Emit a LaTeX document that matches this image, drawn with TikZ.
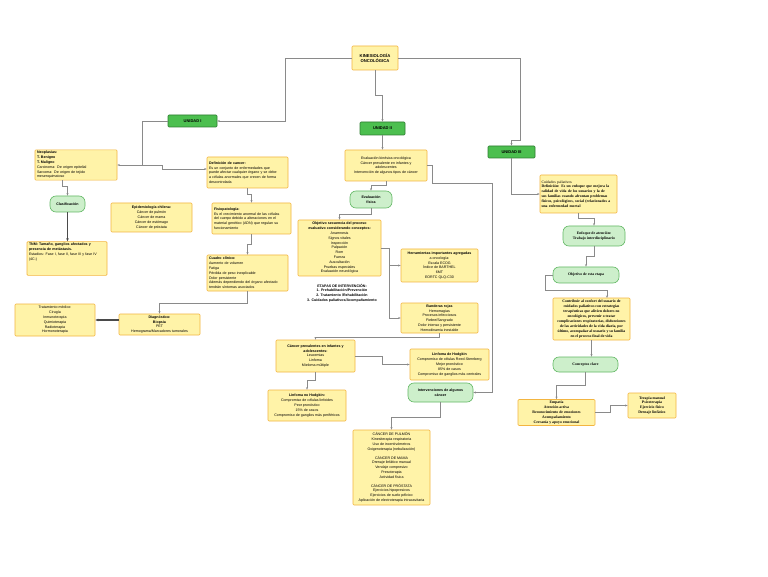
\documentclass[tikz,border=0pt]{standalone}
\usepackage{fontspec}
\setmainfont{Liberation Sans}
\newfontfamily\serifx{Liberation Serif}
\usetikzlibrary{arrows.meta,calc}
\definecolor{boxfill}{HTML}{FFF3A8}
\definecolor{boxline}{HTML}{F3B541}
\definecolor{pillfill}{HTML}{CDEFCB}
\definecolor{pillline}{HTML}{62B864}
\definecolor{unifill}{HTML}{4CBF4F}
\definecolor{uniline}{HTML}{2E7D32}
\definecolor{linec}{HTML}{8A8A8A}
\definecolor{darkline}{HTML}{4A4A4A}
\tikzset{
 box/.style={draw=boxline, fill=boxfill, line width=0.6pt, rounded corners=1pt, inner sep=1.5pt, font=\fontsize{3.6}{4.8}\selectfont},
 sbox/.style={draw=boxline, fill=boxfill, line width=0.6pt, rounded corners=1pt, inner sep=1.5pt, font=\serifx\bfseries\fontsize{3.8}{4.9}\selectfont},
 pill/.style={draw=pillline, fill=pillfill, line width=0.6pt, rounded corners=6pt, inner sep=1pt, align=center, font=\fontsize{3.6}{4.6}\selectfont\bfseries},
 spill/.style={pill, font=\serifx\bfseries\fontsize{3.8}{4.6}\selectfont},
 uni/.style={draw=uniline, fill=unifill, line width=0.6pt, rounded corners=1pt, font=\fontsize{4}{5}\selectfont\bfseries},
 wh/.style 2 args={minimum width=#1pt, minimum height=#2pt},
 tw/.style={text width=#1pt},
 conn/.style={draw=linec, line width=0.5pt, -{Stealth[length=2.5pt,width=2pt]}},
 heavy/.style={draw=darkline, line width=1.2pt, -{Stealth[length=3pt,width=2.5pt]}},
}
\begin{document}
\begin{tikzpicture}[x=1pt,y=-1pt]
\fill[white] (0,0) rectangle (768,577);
\useasboundingbox (0,0) rectangle (768,577);

% --- title and units
\node[box, wh={46}{24}, align=center, font=\bfseries\fontsize{4.2}{5.4}\selectfont] (title) at (375,58) {KINESIOLOGÍA\\ONCOLÓGICA};
\node[uni, wh={49}{12}] (u1) at (192.5,121) {UNIDAD I};
\node[uni, wh={45}{13}] (u2) at (382.5,128.5) {UNIDAD II};
\node[uni, wh={47}{12}] (u3) at (511.5,152) {UNIDAD III};

% --- unidad I
\node[box, wh={82}{30}, tw={78}, align=left] (neo) at (76,165) {\textbf{Neoplasias:}\\\textbf{T. Benigno}\\\textbf{T. Maligno}\\Carcinoma: De origen epitelial\\Sarcoma: De origen de tejido\\mesenquimatoso};
\node[pill, wh={35}{16}] (clas) at (67.5,204) {Clasificación};
\node[box, wh={80}{31}, tw={76}, align=left] (tnm) at (67,258.5) {\textbf{TNM: Tamaño, ganglios afectados y}\\\textbf{presencia de metástasis.}\\Estadios: Fase I, fase II, fase III y fase IV\\(4C-)\\[9pt]~};
\node[box, wh={81}{29}, align=center] (epi) at (151.5,217.5) {\textbf{Epidemiología chilena:}\\Cáncer de pulmón\\Cáncer de mama\\Cáncer de estómago\\Cáncer de próstata};
\node[box, wh={81}{31}, tw={77}, align=left] (def) at (247.5,172.5) {\textbf{Definición de cancer:}\\Es un conjunto de enfermedades que\\puede afectar cualquier órgano y se debe\\a células anormales que crecen de forma\\descontrolada};
\node[box, wh={79}{31}, tw={75}, align=left] (fisio) at (251.5,218.5) {\textbf{Fisiopatología:}\\Es el crecimiento anormal de las células\\del cuerpo debido a alteraciones en el\\material genético (ADN) que regulan su\\funcionamiento};
\node[box, wh={81}{36}, tw={77}, align=left] (cuadro) at (247.5,273) {\textbf{Cuadro clínico:}\\Aumento de volumen\\Fatiga\\Pérdida de peso inexplicable\\Dolor persistente\\Además dependiendo del órgano afectado\\tendrán síntomas asociados};
\node[box, wh={81}{21}, align=center] (diag) at (159.5,324.5) {\textbf{Diagnóstico:}\\\textbf{Biopsia}\\PET\\Hemograma/Marcadores tumorales};
\node[box, wh={80}{32}, align=center] (trat) at (55,320) {Tratamiento médico:\\Cirugía\\Inmunoterapia\\Quimioterapia\\Radioterapia\\Hormonoterapia};

% --- unidad II
\node[box, wh={82}{31}, align=center] (evk) at (386,165.5) {Evaluación kinésica oncológica\\Cáncer prevalente en infantes y\\adolescentes\\Intervención de algunos tipos de cáncer};
\node[pill, wh={42}{17}] (evf) at (371,199.5) {Evaluación\\física};
\node[box, wh={83}{56}, align=center] (obj) at (339.5,248) {\textbf{Objetivo secuencia del proceso}\\\textbf{evaluativo considerando conceptos:}\\Anamnesis\\Signos vitales\\Inspección\\Palpación\\Rom\\Fuerza\\Auscultación\\Pruebas especiales\\Evaluación neurológica};
\node[align=center, inner sep=0pt, font=\bfseries\fontsize{3.6}{4.8}\selectfont] (etapas) at (342,293) {ETAPAS DE INTERVENCIÓN:\\1. Prehabilitación/Prevención\\2. Tratamiento /Rehabilitación\\3. Cuidados paliativos/Acompañamiento};
\node[box, wh={77}{33}, align=center] (herr) at (439.5,265.5) {\textbf{Herramientas importantes agregadas}\\a oncología:\\Escala ECOG\\Índice de BARTHEL\\6MT\\EORTC QLQ-C30};
\node[box, wh={77}{30}, align=center] (band) at (439.5,318) {\textbf{Banderas rojas}\\Hemorragias\\Procesos infecciosos\\Fiebre/Sangrado\\Dolor intenso y persistente\\Hemodinamia inestable};
\node[box, wh={79}{32}, align=center] (cprev) at (315.5,356) {\textbf{Cáncer prevalentes en infantes y}\\\textbf{adolescentes:}\\Leucemias\\Linfoma\\Mieloma múltiple};
\node[box, wh={79}{31}, align=center] (lh) at (449.5,364.5) {\textbf{Linfoma de Hodgkin}\\Compromiso de células Reed-Sternberg\\Mejor pronóstico\\85\% de casos\\Compromiso de ganglios más centrales};
\node[box, wh={78}{31}, align=center] (lnh) at (307,405.5) {\textbf{Linfoma no Hodgkin:}\\Compromiso de células linfoides\\Peor pronóstico\\15\% de casos\\Compromiso de ganglios más periféricos};
\node[pill, wh={65}{19}] (interv) at (440.5,392.5) {Intervenciones de algunos\\cáncer};
\node[box, wh={77}{75}, align=center] (cancer) at (391.5,467.5) {CÁNCER DE PULMÓN\\Kinesiterapia respiratoria\\Uso de incentivómetros\\Oxigenoterapia (nebulización)\\[4pt]CÁNCER DE MAMA\\Drenaje linfático manual\\Vendaje compresivo\\Presoterapia\\Actividad física\\[4pt]CÁNCER DE PRÓSTATA\\Ejercicios hipopresivos\\Ejercicios de suelo pélvico\\Aplicación de electroterapia intracavitaria};

% --- unidad III
\node[sbox, wh={77}{38}, tw={74}, align=left] (cuid) at (578.5,194) {\mdseries Cuidados paliativos\\\bfseries Definición: Es un enfoque que mejora la\\calidad de vida de los usuarios y la de\\sus familias cuando afrontan problemas\\físicos, psicológicos, social (relacionados a\\una enfermedad mortal};
\node[spill, wh={62}{20}] (enf) at (594,236) {Enfoque de atención:\\Trabajo interdisciplinario};
\node[spill, wh={66}{16}] (objet) at (586,275) {Objetivo de esta etapa};
\node[sbox, wh={77}{42}, align=center] (contrib) at (591.5,319) {Contribuir al confort del usuario de\\cuidados paliativos con estrategias\\terapéuticas que alivien dolores no\\oncológicos, prevenir o tratar\\complicaciones respiratorias, disfunciones\\de las actividades de la vida diaria, por\\último, acompañar al usuario y su familia\\en el proceso final de vida};
\node[spill, wh={65}{15}] (concep) at (585.5,364.5) {Conceptos clave};
\node[sbox, wh={77}{25}, align=center] (empat) at (556.5,412.5) {Empatía\\Atención activa\\Reconocimiento de emociones\\Acompañamiento\\Cercanía y apoyo emocional};
\node[sbox, wh={48}{25}, align=center] (terap) at (652,405.5) {Terapia manual\\Psicoterapia\\Ejercicio físico\\Drenaje linfático};

% --- connectors
\draw[conn] (title.west) -- (285,58) |- (u1.east);
\draw[conn] (title.south) -- ++(0,25) -| (u2.north);
\draw[conn] (title.east) -- (520,58) -- (520,140) -| (u3.north);
\coordinate (j1) at (142,165);
\draw[conn] (u1.west) -| (j1) -- (neo.east);
\draw[conn] (j1) -- (162,165) -- (162,169) -- (def.west |- 0,169);
\draw[conn] ([xshift=-14pt]neo.south) -- ++(0,6) -| (clas.north);
\draw[heavy] (clas.south) -- (clas.south |- tnm.north);
\draw[conn] (def.south) -- ++(0,6) -| (fisio.north);
\draw[conn] (fisio.south) -- ++(0,10) -| (cuadro.north);
\draw[conn] (cuadro.south) -- ++(0,12) -| (diag.north);
\draw[heavy] (diag.west |- trat.east) -- (trat.east);
\draw[conn] (u2.south) -- (u2.south |- evk.north);
\draw[conn] (evk.east) -- (432,165.5) -- (432,183) -- (492,183) |- (interv.east);
\draw[conn] (evk.south) -- ++(0,4) -| (evf.north);
\draw[conn] (evf.south) -- ++(0,6) -| (obj.north);
\coordinate (j2) at (389,248);
\draw[conn] (obj.east) -- (j2) |- (herr.west);
\draw[conn] (j2) |- (band.west);
\draw[conn] (band.south) -- ++(0,4) -| (cprev.north);
\draw[conn] (cprev.east) -- (382,356) |- (lh.west);
\draw[conn] (cprev.south) -- ++(0,8) -| (lnh.north);
\draw[conn] (interv.south) -- ++(0,15) -| (cancer.north);
\draw[conn] (u3.south) |- (cuid.west);
\draw[conn] (cuid.south) -- ++(0,5) -| (enf.north);
\draw[conn] (enf.south) -- ++(0,10) -| (objet.north);
\draw[conn] (objet.west) -- (545,275) -- (545,290) -- (607,290) -- (607,298);
\draw[conn] (contrib.south) -- (contrib.south |- concep.north);
\draw[conn] (concep.south) -- ++(0,13) -| (empat.north);
\draw[conn] (empat.east) -- (610,412.5) |- (terap.west);
\end{tikzpicture}
\end{document}
